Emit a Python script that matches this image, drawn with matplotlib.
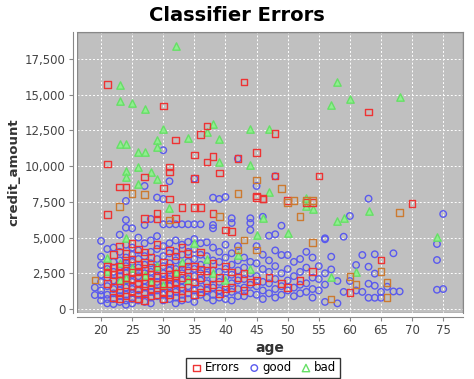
import matplotlib.pyplot as plt
from matplotlib.ticker import FuncFormatter, MultipleLocator

# (age, credit_amount)
good = [
    (19, 980), (19, 1500),
    (20, 4760), (20, 3660), (20, 3080), (20, 2400), (20, 1900), (20, 1300), (20, 980), (20, 600),
    (21, 4200), (21, 2800), (21, 2200), (21, 1600), (21, 1000), (21, 700), (21, 400),
    (22, 4300), (22, 3300), (22, 2600), (22, 2000), (22, 1400), (22, 1100), (22, 700), (22, 350),
    (23, 5200), (23, 4000), (23, 3400), (23, 2700), (23, 2300), (23, 1800), (23, 1300), (23, 900), (23, 500),
    (24, 7560), (24, 6230), (24, 5690), (24, 4500), (24, 3600), (24, 3000), (24, 2500), (24, 2000),
    (24, 1500), (24, 1000), (24, 600), (24, 300),
    (25, 5650), (25, 4300), (25, 3800), (25, 3300), (25, 2800), (25, 2400), (25, 1900), (25, 1400),
    (25, 1100), (25, 700), (25, 400),
    (26, 5000), (26, 4100), (26, 3500), (26, 2900), (26, 2300), (26, 1800), (26, 1300), (26, 1000), (26, 600),
    (27, 8610), (27, 5880), (27, 4600), (27, 3700), (27, 3100), (27, 2500), (27, 2000), (27, 1500),
    (27, 1100), (27, 500),
    (28, 6300), (28, 4800), (28, 4000), (28, 3200), (28, 2600), (28, 2100), (28, 1600), (28, 1200),
    (28, 800), (28, 400),
    (29, 7800), (29, 5100), (29, 4200), (29, 3500), (29, 2900), (29, 2300), (29, 1900), (29, 1300), (29, 900),
    (30, 11110), (30, 7700), (30, 5930), (30, 4400), (30, 3700), (30, 3000), (30, 2500), (30, 2000),
    (30, 1500), (30, 1000), (30, 600),
    (31, 8940), (31, 5930), (31, 4600), (31, 3900), (31, 3200), (31, 2700), (31, 2100), (31, 1600),
    (31, 1100), (31, 700),
    (32, 5930), (32, 4800), (32, 4000), (32, 3400), (32, 2800), (32, 2200), (32, 1700), (32, 1200),
    (32, 800), (32, 400),
    (33, 5930), (33, 4500), (33, 3800), (33, 3100), (33, 2500), (33, 2000), (33, 1500), (33, 1000), (33, 600),
    (34, 5930), (34, 4700), (34, 4000), (34, 3300), (34, 2700), (34, 2100), (34, 1600), (34, 1100), (34, 700),
    (35, 9120), (35, 5930), (35, 4900), (35, 4200), (35, 3500), (35, 2800), (35, 2300), (35, 1800),
    (35, 1300), (35, 900), (35, 500),
    (36, 5930), (36, 4600), (36, 3800), (36, 3100), (36, 2500), (36, 2000), (36, 1400), (36, 1000),
    (37, 4670), (37, 3700), (37, 3000), (37, 2400), (37, 1800), (37, 1300), (37, 800),
    (38, 7790), (38, 5880), (38, 5650), (38, 4300), (38, 3400), (38, 2700), (38, 2100), (38, 1500),
    (38, 1000), (38, 600),
    (39, 7700), (39, 4000), (39, 3300), (39, 2600), (39, 1900), (39, 1300), (39, 800),
    (40, 7840), (40, 4500), (40, 3600), (40, 2800), (40, 2200), (40, 1600), (40, 1100), (40, 700),
    (41, 6350), (41, 6020), (41, 3900), (41, 3100), (41, 2400), (41, 1800), (41, 1200), (41, 600),
    (42, 10520), (42, 4400), (42, 3400), (42, 2700), (42, 2000), (42, 1400), (42, 900),
    (43, 3600), (43, 2900), (43, 2100), (43, 1500), (43, 900),
    (44, 6350), (44, 6020), (44, 5530), (44, 3300), (44, 2500), (44, 1700), (44, 1100),
    (45, 8610), (45, 4400), (45, 3200), (45, 2300), (45, 1600), (45, 1000),
    (46, 6450), (46, 3800), (46, 2800), (46, 1900), (46, 1300), (46, 700),
    (47, 5130), (47, 3400), (47, 2600), (47, 1800), (47, 1100),
    (48, 9290), (48, 5230), (48, 4100), (48, 3000), (48, 2100), (48, 1400), (48, 800),
    (49, 5830), (49, 3780), (49, 2500), (49, 1600), (49, 1000),
    (50, 3780), (50, 2800), (50, 2000), (50, 1300),
    (51, 3300), (51, 2300), (51, 1500), (51, 900),
    (52, 3500), (52, 2600), (52, 1700), (52, 1100),
    (53, 4000), (53, 2900), (53, 1800), (53, 1200),
    (54, 3600), (54, 2200), (54, 1400), (54, 800),
    (55, 3000), (55, 2100), (55, 1300),
    (56, 4950), (56, 4880), (56, 2500), (56, 1710), (56, 500),
    (57, 3660), (57, 2770),
    (58, 1960), (58, 400),
    (59, 5060), (59, 1200),
    (60, 6510), (60, 1960),
    (61, 3080), (61, 1300),
    (62, 3780), (62, 1200),
    (63, 7720), (63, 2960), (63, 1770), (63, 790),
    (64, 3830), (64, 2480), (64, 1630), (64, 790),
    (65, 1200), (65, 790),
    (66, 1560),
    (67, 3900), (67, 1230),
    (68, 1230),
    (74, 4550), (74, 3430), (74, 1350),
    (75, 6650), (75, 1400),
]

bad = [
    (21, 3550), (21, 2660),
    (23, 15700), (23, 14540), (23, 11570), (23, 3200), (23, 2000),
    (24, 11570), (24, 9640), (24, 9240), (24, 4940), (24, 2200),
    (25, 14440), (25, 2900),
    (26, 10990), (26, 9940), (26, 8750),
    (27, 14020), (27, 10990), (27, 2400),
    (28, 9590), (28, 1900),
    (29, 11810), (29, 11300), (29, 9120), (29, 3000),
    (30, 12620), (30, 1700),
    (31, 7050),
    (32, 18410), (32, 2600),
    (33, 3300),
    (34, 11970), (34, 2000),
    (35, 4600),
    (37, 12390), (37, 3500),
    (38, 12970), (38, 2500),
    (39, 11920), (39, 10290),
    (40, 2000),
    (42, 3800),
    (44, 12580), (44, 10100), (44, 2800),
    (45, 5200),
    (46, 6350),
    (47, 12620), (47, 8200),
    (50, 5300),
    (53, 7230), (53, 7800),
    (54, 7000),
    (57, 14260), (57, 2260),
    (58, 15890), (58, 6160),
    (59, 6350),
    (60, 14720),
    (61, 2600),
    (63, 6880),
    (68, 14840),
    (74, 5060),
]

errors = [
    (21, 15700), (21, 10150), (21, 6630), (21, 3000), (21, 2500), (21, 1800),
    (22, 3800), (22, 2900), (22, 1500), (22, 2400), (22, 800),
    (23, 8520), (23, 4400), (23, 3000), (23, 2000), (23, 1200), (23, 2500), (23, 700),
    (24, 8520), (24, 3900), (24, 2700), (24, 1700), (24, 900), (24, 3300), (24, 2200),
    (25, 4600), (25, 3500), (25, 2600), (25, 1600), (25, 800), (25, 2100), (25, 1200),
    (26, 4200), (26, 3100), (26, 2200), (26, 1400), (26, 700), (26, 2600), (26, 1800),
    (27, 9240), (27, 6350), (27, 4000), (27, 3300), (27, 2700), (27, 1800), (27, 1200), (27, 600),
    (28, 3600), (28, 2400), (28, 1400), (28, 900), (28, 2900), (28, 1900),
    (29, 6700), (29, 6300), (29, 4500), (29, 2800), (29, 1700), (29, 1000), (29, 2200),
    (30, 14210), (30, 8470), (30, 3300), (30, 2300), (30, 1200), (30, 1800), (30, 700),
    (31, 9940), (31, 9590), (31, 7700), (31, 4100), (31, 2900), (31, 1800), (31, 1000), (31, 2400),
    (32, 11810), (32, 6350), (32, 3700), (32, 2500), (32, 1400), (32, 1900),
    (33, 7100), (33, 4300), (33, 2800), (33, 1300), (33, 2200), (33, 800),
    (34, 3900), (34, 2300), (34, 1500), (34, 3000),
    (35, 10760), (35, 9120), (35, 7100), (35, 3000), (35, 1900), (35, 1000),
    (36, 12200), (36, 7100), (36, 4000), (36, 2200), (36, 1200), (36, 2800),
    (37, 12790), (37, 10290), (37, 2700), (37, 1500),
    (38, 10660), (38, 6700), (38, 3200), (38, 1700),
    (39, 9520), (39, 2200), (39, 1100),
    (40, 5530), (40, 3000), (40, 1400),
    (41, 5410), (41, 2600), (41, 1500),
    (42, 10520), (42, 2200),
    (43, 15890), (43, 2500), (43, 1300),
    (44, 1900),
    (45, 10940), (45, 7910), (45, 7790), (45, 2000),
    (46, 7700), (46, 7720),
    (47, 2200),
    (48, 12270), (48, 9290),
    (49, 1800),
    (50, 7610), (50, 1500),
    (52, 2000),
    (53, 7470),
    (54, 7470), (54, 2610),
    (55, 9290),
    (60, 1170),
    (63, 13790),
    (65, 3430),
    (70, 7400),
]

# error squares drawn in the darker orange tone
errors_orange = [
    (19, 2030), (23, 7160), (25, 8070), (27, 8030), (31, 6230), (39, 6460),
    (42, 8070), (42, 4130), (43, 4830), (45, 9010), (45, 4130), (49, 8420),
    (50, 7470), (51, 7610), (52, 6460), (53, 7610), (54, 7610), (54, 4670),
    (57, 700), (60, 2260), (61, 1710), (65, 2610), (66, 1870), (66, 800),
    (68, 6770),
]

fig = plt.figure(figsize=(4.74, 3.79), dpi=100)
ax = fig.add_axes([0.162, 0.174, 0.815, 0.742])
ax.set_facecolor('#c0c0c0')

gx, gy = zip(*good)
bx, by = zip(*bad)
ex, ey = zip(*errors)
ox, oy = zip(*errors_orange)

ax.scatter(gx, gy, s=22, facecolors='none', edgecolors='#5a5aee', linewidths=1.0, zorder=3)
ax.scatter(bx, by, s=28, marker='^', facecolors='#90ee90', edgecolors='#66e066', linewidths=1.0, zorder=3)
ax.scatter(ex, ey, s=22, marker='s', facecolors='none', edgecolors='#ee3333', linewidths=1.0, zorder=4)
ax.scatter(ox, oy, s=22, marker='s', facecolors='none', edgecolors='#cc7a30', linewidths=1.0, zorder=4)

ax.set_xlim(16.1, 78.2)
ax.set_ylim(-280, 19390)
ax.xaxis.set_major_locator(MultipleLocator(5))
ax.yaxis.set_major_locator(MultipleLocator(2500))
ax.yaxis.set_major_formatter(FuncFormatter(lambda v, p: f'{int(v):,}'))
ax.grid(True, color='white', linestyle=(0, (2, 2)), linewidth=0.7, zorder=1)
ax.set_axisbelow(True)

for s in ['top', 'right']:
    ax.spines[s].set_color('#888888')
for s in ['left', 'bottom']:
    ax.spines[s].set_position(('outward', 3))
    ax.spines[s].set_color('#888888')
ax.add_patch(plt.Rectangle((0, 0), 1, 1, transform=ax.transAxes, fill=False,
                           edgecolor='#888888', linewidth=1.0, zorder=5))
ax.tick_params(axis='both', colors='#888888', labelcolor='#444444', labelsize=8.5,
               length=3, width=0.8, pad=2)

ax.set_xlabel('age', fontsize=10, fontweight='bold', color='#333333', labelpad=3)
ax.set_ylabel('credit_amount', fontsize=9.5, fontweight='bold', color='#333333', labelpad=3)
fig.suptitle('Classifier Errors', fontsize=14, fontweight='bold', y=0.985)

# legend handles
h1 = ax.scatter([], [], s=22, marker='s', facecolors='none', edgecolors='#ee3333', linewidths=1.0)
h2 = ax.scatter([], [], s=22, facecolors='none', edgecolors='#5a5aee', linewidths=1.0)
h3 = ax.scatter([], [], s=28, marker='^', facecolors='none', edgecolors='#66e066', linewidths=1.0)
leg = fig.legend([h1, h2, h3], ['Errors', 'good', 'bad'], loc='center', bbox_to_anchor=(0.555, 0.03),
                 ncol=3, fontsize=8.5, frameon=True, fancybox=False, handletextpad=0.1,
                 columnspacing=0.6, borderpad=0.3, handlelength=1.2, borderaxespad=0)
leg.get_frame().set_edgecolor('black')
leg.get_frame().set_linewidth(1.0)

fig.savefig('out.png', dpi=100)
